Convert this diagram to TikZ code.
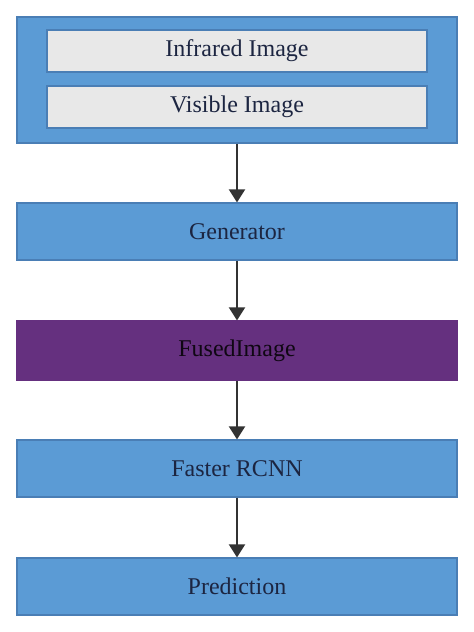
\documentclass[tikz,border=0pt]{standalone}
\usepackage{fontspec}
\setmainfont{Liberation Serif}
\usepackage{xcolor}
\usetikzlibrary{arrows.meta}
\definecolor{blockblue}{HTML}{5B9BD5}
\definecolor{edgeblue}{HTML}{4A7EB5}
\definecolor{fusedpurple}{HTML}{65307F}
\definecolor{inputgray}{HTML}{E8E8E8}
\definecolor{textnavy}{HTML}{1C2541}

\begin{document}
\begin{tikzpicture}[x=0.5pt, y=-0.5pt, font=\fontsize{12}{14}\selectfont, text=textnavy,
  blockbox/.style={draw=edgeblue, fill=blockblue, line width=0.6pt, minimum width=220pt, minimum height=28.5pt, inner sep=0pt},
  inbox/.style={draw=edgeblue, fill=inputgray, line width=0.8pt, minimum width=190pt, minimum height=21pt, inner sep=0pt},
  flow/.style={draw=black!80, line width=1pt, -{Triangle[width=8pt,length=6.5pt]}}]
  \useasboundingbox (0,0) rectangle (474,632);
  \node[blockbox, minimum height=63pt] (inputs) at (237,80) {};
  \node[inbox] (infrared) at (237,51) {Infrared Image};
  \node[inbox] (visible) at (237,107) {Visible Image};
  \node[blockbox] (gen) at (237,231.5) {Generator};
  \node[blockbox, fill=fusedpurple, draw=fusedpurple, text=black!85!fusedpurple, minimum height=29.5pt] (fused) at (237,350.5) {FusedImage};
  \node[blockbox] (rcnn) at (237,468.5) {Faster RCNN};
  \node[blockbox] (pred) at (237,586.5) {Prediction};
  \draw[flow] (inputs) -- (gen);
  \draw[flow] (gen) -- (fused);
  \draw[flow] (fused) -- (rcnn);
  \draw[flow] (rcnn) -- (pred);
\end{tikzpicture}
\end{document}
